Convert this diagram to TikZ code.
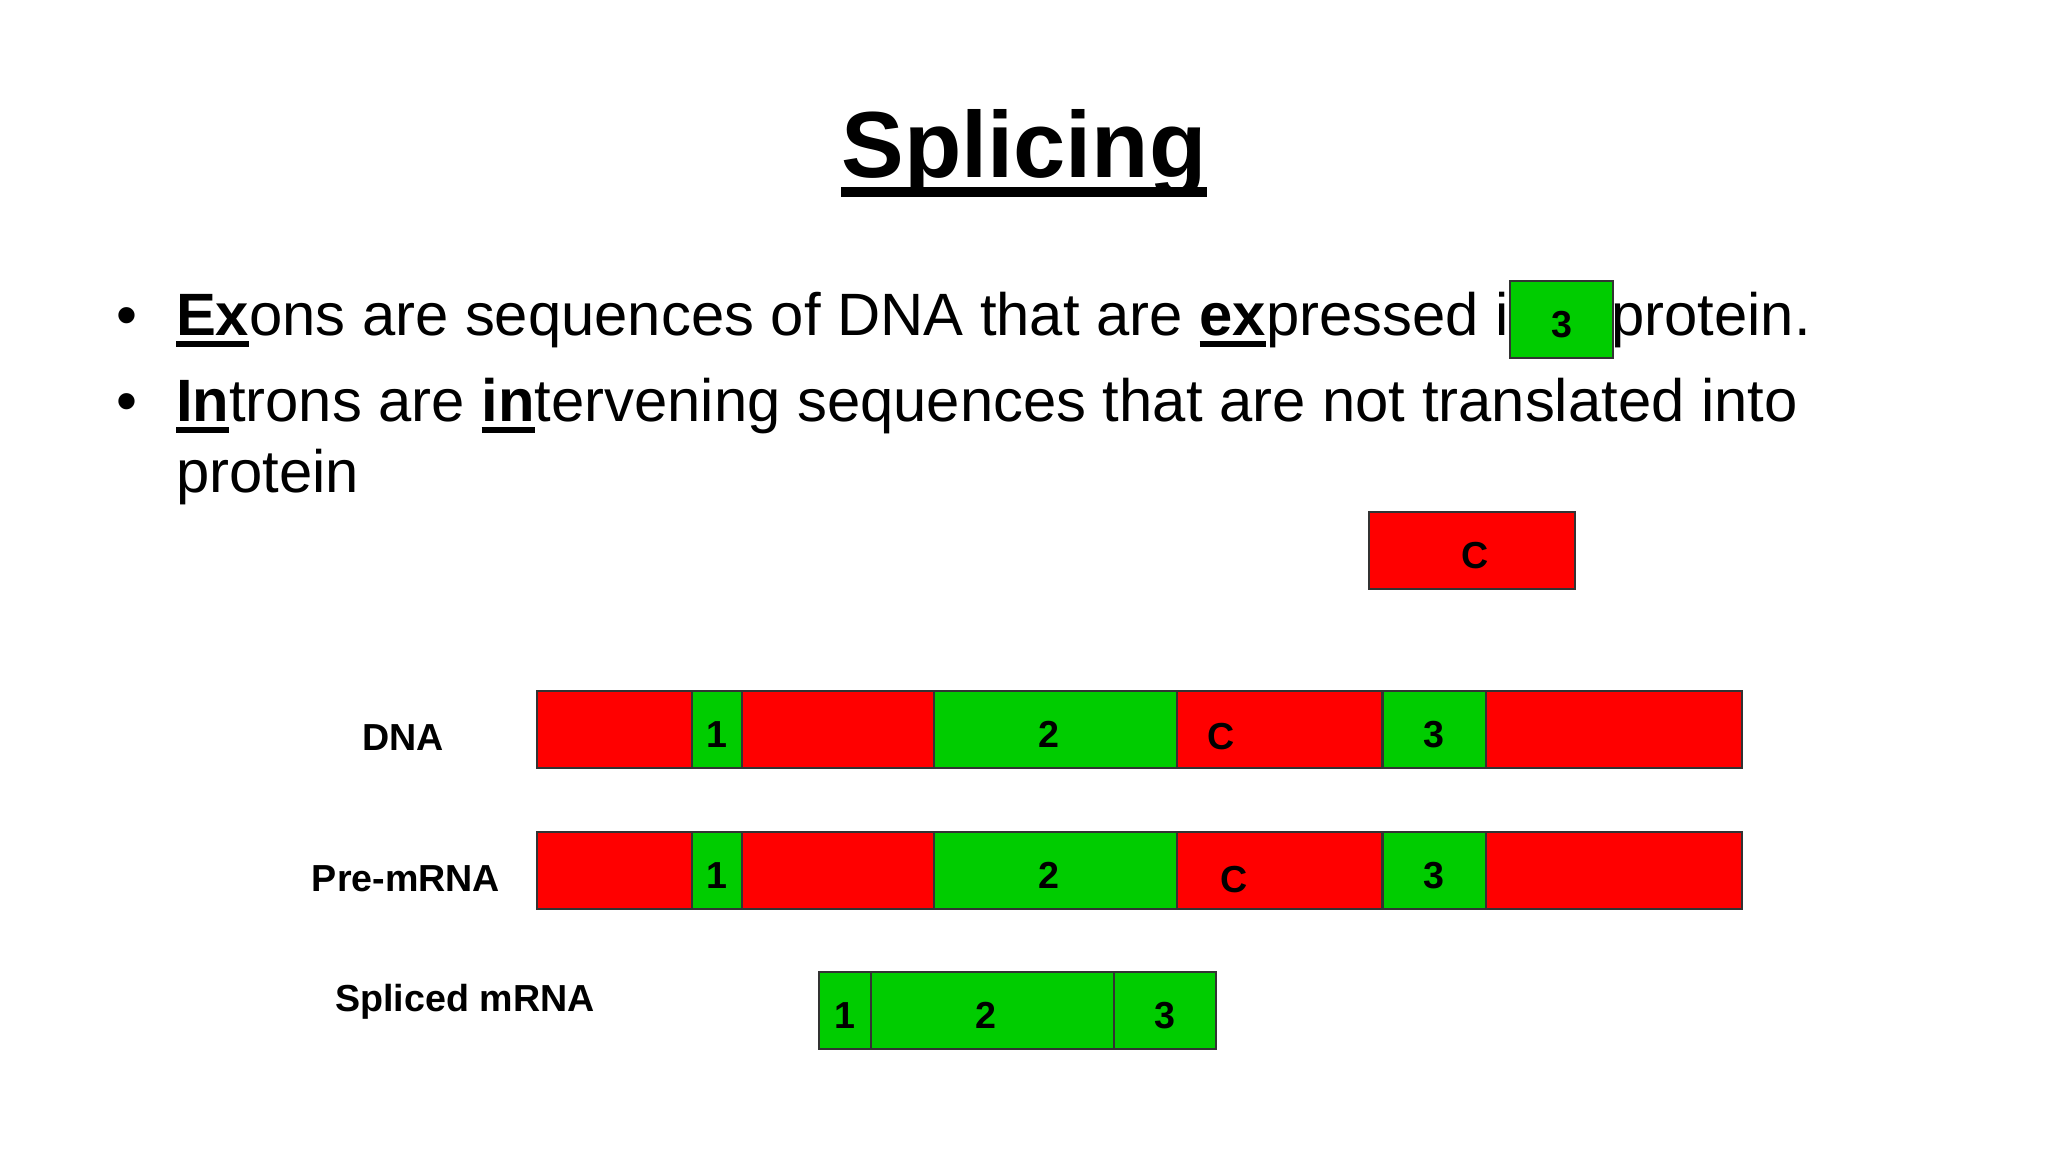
\documentclass[tikz,border=0pt]{standalone}
\usepackage{fontspec}
\setmainfont{Liberation Sans}
\usetikzlibrary{positioning}
\definecolor{exongreen}{RGB}{0,204,0}
\definecolor{intronred}{RGB}{255,0,0}
\newcommand{\ulbold}[2][0.18em]{\setbox0=\hbox{\textbf{#2}}\rlap{\rule[-#1]{\wd0}{0.1em}}\box0}

\begin{document}
\begin{tikzpicture}[x=0.01cm,y=-0.01cm,
    every node/.style={inner sep=0pt,outer sep=0pt},
    seg/.style={draw=black!80,line width=0.6pt,minimum height=0.77cm,
      font=\fontsize{10.7}{12}\selectfont\bfseries,text height=1.03em,text depth=0pt},
    exon/.style={seg,fill=exongreen},
    intron/.style={seg,fill=intronred},
    seglabel/.style={font=\fontsize{10.7}{12}\selectfont\bfseries,anchor=base west},
    rowlabel/.style={font=\fontsize{10.7}{12}\selectfont\bfseries,anchor=base},
    bullettext/.style={font=\fontsize{17}{21}\selectfont,anchor=base west},
    bulletmark/.style={font=\fontsize{17}{21}\selectfont,anchor=base}]
      \fill[white] (0,0) rectangle (2048,1152);
      \useasboundingbox (0,0) rectangle (2048,1152);
      % title and bullets
      \node[font=\fontsize{26.7}{32}\selectfont\bfseries,anchor=base] (title) at (1024,178) {\ulbold[0.2em]{Splicing}};
      \node[bulletmark] (b_1) at (127,336) {\textbullet};
      \node[bullettext] (exons) at (176,336) {\ulbold{Ex}ons are sequences of DNA that are \ulbold{ex}pressed in \hspace{0.53cm}protein.};
      \node[bulletmark] (b_2) at (127,422) {\textbullet};
      \node[bullettext] (introns) at (176,422) {\ulbold{In}trons are \ulbold{in}tervening sequences that are not translated into};
      \node[bullettext] (introns_2) at (176,492) {protein};
      \node[exon,minimum width=1.03cm,anchor=north west] (e_3) at (1510,281) {3};
      % cut out intron
      \node[intron,minimum width=2.06cm,anchor=north west] (i_c) at (1369,512) {\kern0.06cm C};
      % DNA
      \node[rowlabel] (dna) at (403,750) {DNA};
      \node[intron,minimum width=1.55cm,anchor=north west] (d_0) at (537,691) {};
      \node[exon,minimum width=0.50cm] (d_1) [right=0pt of d_0] {1};
      \node[intron,minimum width=1.92cm] (d_2) [right=0pt of d_1] {};
      \node[exon,minimum width=2.43cm] (d_3) [right=0pt of d_2] {2\kern0.13cm};
      \node[intron,minimum width=2.05cm] (d_4) [right=0pt of d_3] {};
      \node[exon,minimum width=1.03cm] (d_5) [right=0pt of d_4] {3};
      \node[intron,minimum width=2.56cm] (d_6) [right=0pt of d_5] {};
      \node[seglabel] (d_c) at (1207,749) {C};
      % pre-mRNA
      \node[rowlabel] (pre) at (406,891) {Pre-mRNA};
      \node[intron,minimum width=1.55cm,anchor=north west] (p_0) at (537,832) {};
      \node[exon,minimum width=0.50cm] (p_1) [right=0pt of p_0] {1};
      \node[intron,minimum width=1.92cm] (p_2) [right=0pt of p_1] {};
      \node[exon,minimum width=2.43cm] (p_3) [right=0pt of p_2] {2\kern0.13cm};
      \node[intron,minimum width=2.05cm] (p_4) [right=0pt of p_3] {};
      \node[exon,minimum width=1.03cm] (p_5) [right=0pt of p_4] {3};
      \node[intron,minimum width=2.56cm] (p_6) [right=0pt of p_5] {};
      \node[seglabel] (p_c) at (1220,892) {C};
      % spliced mRNA
      \node[rowlabel] (spl) at (465,1011) {Spliced mRNA};
      \node[exon,minimum width=0.52cm,anchor=north west] (s_1) at (819,972) {1};
      \node[exon,minimum width=2.43cm] (s_2) [right=0pt of s_1] {2\kern0.14cm};
      \node[exon,minimum width=1.02cm] (s_3) [right=0pt of s_2] {3};
\end{tikzpicture}
\end{document}
